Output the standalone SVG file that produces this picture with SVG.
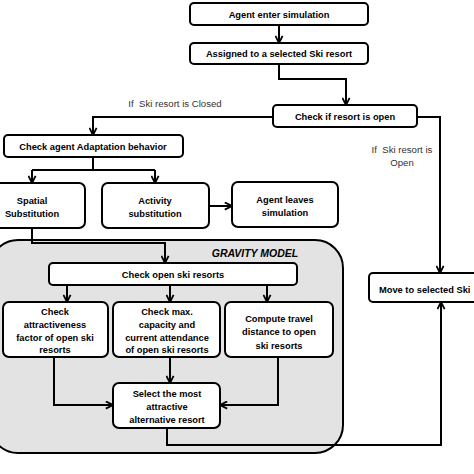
<svg xmlns="http://www.w3.org/2000/svg" width="474" height="474" viewBox="0 0 474 474">
<style>
.box{fill:#fff;stroke:#000;stroke-width:2}
.t{font-family:"Liberation Sans",Arial,sans-serif;font-weight:bold;font-size:9.3px;fill:#000;text-anchor:middle}
.lbl{font-family:"Liberation Sans",Arial,sans-serif;font-size:9.6px;fill:#333;text-anchor:middle}
.c{fill:none;stroke:#000;stroke-width:2}
.a{marker-end:url(#arr)}
</style>
<defs>
<marker id="arr" viewBox="0 0 10 10" refX="9" refY="5" markerWidth="9" markerHeight="9" markerUnits="userSpaceOnUse" orient="auto">
<path d="M1,1 L9,5 L1,9" fill="none" stroke="#000" stroke-width="2"/>
</marker>
</defs>
<rect x="0" y="0" width="474" height="474" fill="#fff"/>
<g id="gravity">
<rect x="-10" y="240" width="353" height="213" rx="28" fill="#e3e3e3" stroke="#000" stroke-width="2"/>
<text x="255" y="257" style="font-family:'Liberation Sans',Arial,sans-serif;font-weight:bold;font-style:italic;font-size:10.5px;text-anchor:middle">GRAVITY MODEL</text>
</g>
<g id="connectors">
<path class="c a" d="M279,25 V43"/>
<path class="c a" d="M279,64 V79 H346 V105"/>
<path class="c a" d="M273,117 H93 V135"/>
<path class="c a" d="M417,117 H440 V273"/>
<path class="c" d="M93,157 V170 M32,170 H155"/>
<path class="c a" d="M32,170 V183"/>
<path class="c a" d="M155,170 V183"/>
<path class="c a" d="M209,206 H232"/>
<path class="c a" d="M32,228 V243 H165 V263"/>
<path class="c a" d="M67,285 V302"/>
<path class="c a" d="M170,285 V302"/>
<path class="c a" d="M267,285 V302"/>
<path class="c a" d="M170,357 V383"/>
<path class="c a" d="M54,357 V405 H113"/>
<path class="c a" d="M278,357 V405 H220"/>
<path class="c a" d="M167,428 V445 H441 V302"/>
<text class="lbl" x="175" y="107" xml:space="preserve">If  Ski resort is Closed</text>
<text class="lbl" x="402" y="152.5" xml:space="preserve">If  Ski resort is</text>
<text class="lbl" x="402" y="166">Open</text>
</g>
<g id="n1"><rect class="box" x="190" y="3" width="178" height="22" rx="4"/><text class="t" x="279" y="17.5">Agent enter simulation</text></g>
<g id="n2"><rect class="box" x="190" y="43" width="178" height="21" rx="4"/><text class="t" x="279" y="57">Assigned to a selected Ski resort</text></g>
<g id="n3"><rect class="box" x="273" y="105" width="144" height="22" rx="4"/><text class="t" x="345" y="119.5">Check if resort is open</text></g>
<g id="n4"><rect class="box" x="4" y="135" width="179" height="22" rx="4"/><text class="t" x="93" y="149.5">Check agent Adaptation behavior</text></g>
<g id="n5"><rect class="box" x="-21" y="183" width="106" height="45" rx="6"/><text class="t" x="32" y="204">Spatial</text><text class="t" x="32" y="217">Substitution</text></g>
<g id="n6"><rect class="box" x="102" y="183" width="107" height="45" rx="6"/><text class="t" x="155" y="204">Activity</text><text class="t" x="155" y="217">substitution</text></g>
<g id="n7"><rect class="box" x="232" y="182" width="106" height="45" rx="6"/><text class="t" x="285" y="202.5">Agent leaves</text><text class="t" x="285" y="215.5">simulation</text></g>
<g id="n8"><rect class="box" x="369" y="273" width="130" height="29" rx="4"/><text class="t" x="379" y="292.5" style="text-anchor:start">Move to selected Ski</text></g>
<g id="n9"><rect class="box" x="49" y="263" width="248" height="22" rx="4"/><text class="t" x="173" y="277.5">Check open ski resorts</text></g>
<g id="n10"><rect class="box" x="3" y="302" width="105" height="55" rx="6"/><text class="t" x="55" y="314.5">Check</text><text class="t" x="55" y="328">attractiveness</text><text class="t" x="55" y="340.5">factor of open ski</text><text class="t" x="55" y="352.5">resorts</text></g>
<g id="n11"><rect class="box" x="113" y="302" width="107" height="55" rx="6"/><text class="t" x="167" y="314.5">Check max.</text><text class="t" x="167" y="328">capacity and</text><text class="t" x="167" y="340.5">current attendance</text><text class="t" x="167" y="352.5">of open ski resorts</text></g>
<g id="n12"><rect class="box" x="225" y="302" width="108" height="55" rx="6"/><text class="t" x="279" y="321.5">Compute travel</text><text class="t" x="279" y="335">distance to open</text><text class="t" x="279" y="348.5">ski resorts</text></g>
<g id="n13"><rect class="box" x="113" y="383" width="107" height="45" rx="6"/><text class="t" x="167" y="396.5">Select the most</text><text class="t" x="167" y="410">attractive</text><text class="t" x="167" y="422.5">alternative resort</text></g>
</svg>
